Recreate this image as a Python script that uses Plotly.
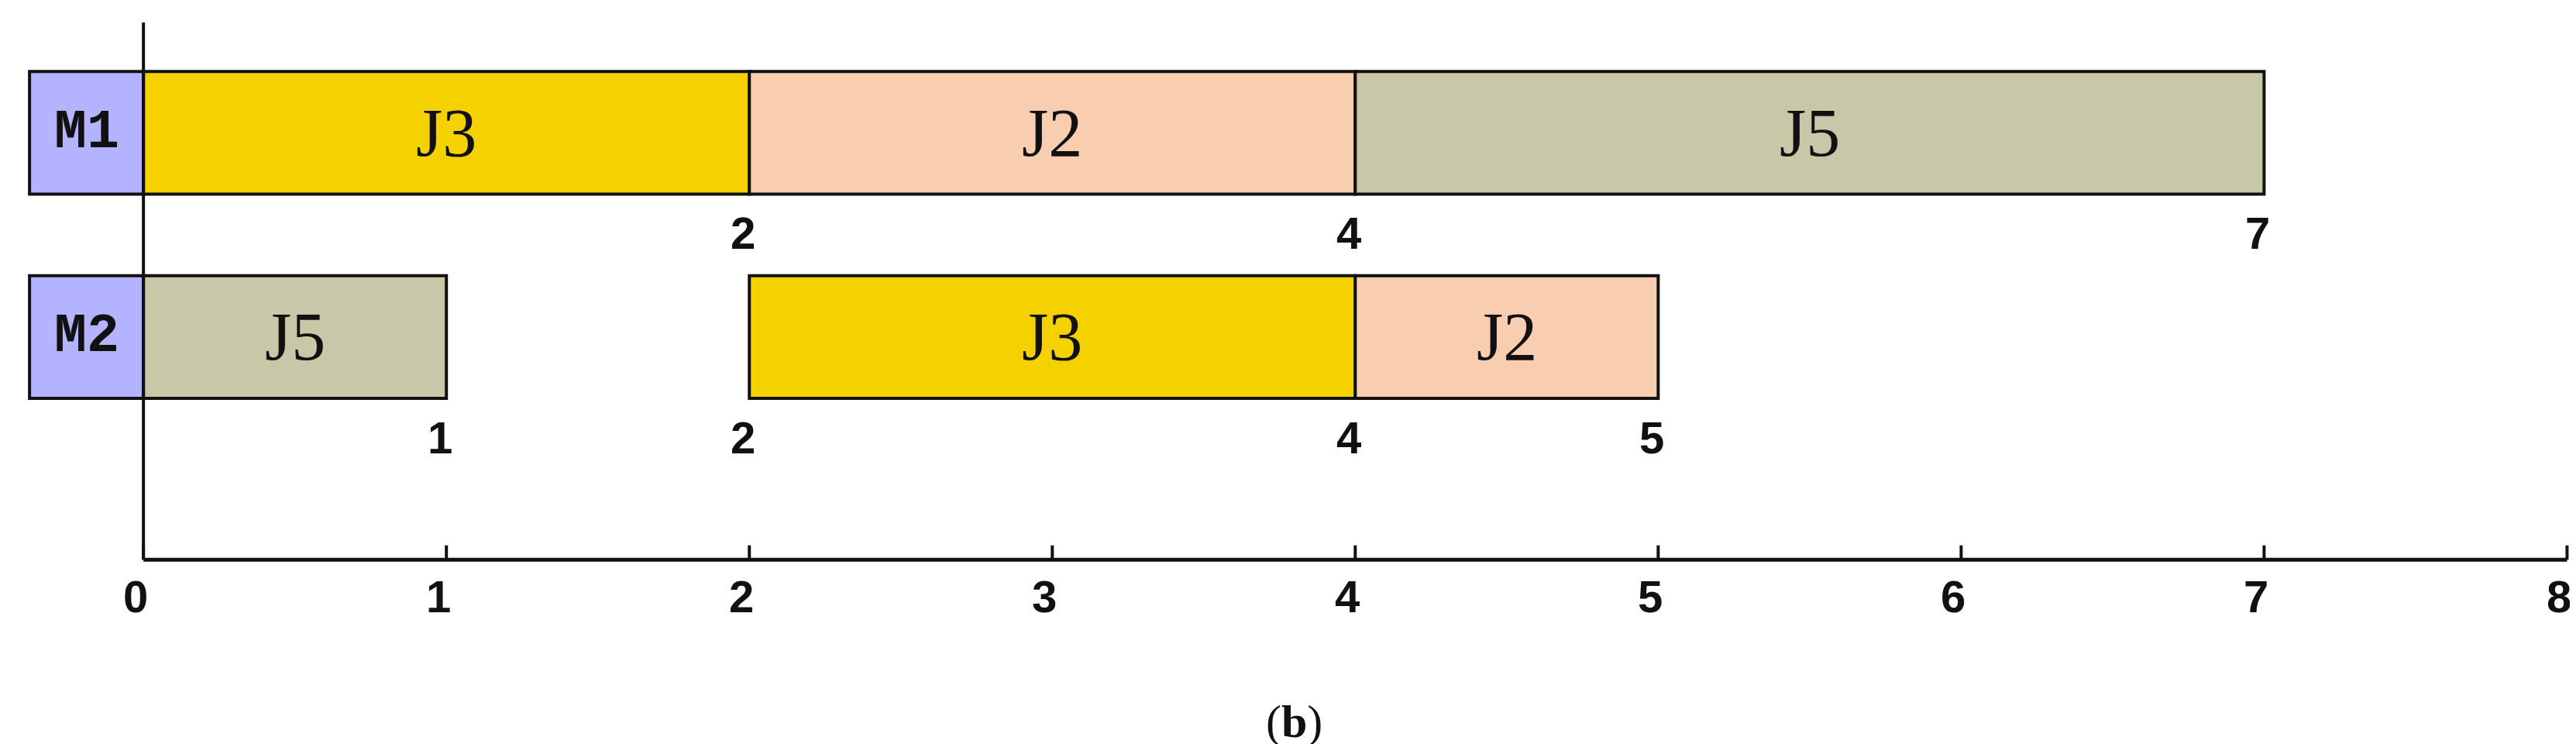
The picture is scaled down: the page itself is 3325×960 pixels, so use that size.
import plotly.graph_objects as go

machines = ["M1", "M2"]
jobs = [["J3", "J2", "J5"], ["J5", "J3", "J2"]]
starts = [[0, 2, 4], [0, 2, 4]]
ends = [[2, 4, 7], [1, 4, 5]]
ticks = [0, 1, 2, 3, 4, 5, 6, 7, 8]
colors = {"J3": "#F5D100", "J2": "#F9CDB0", "J5": "#C8C8A9"}
mcolor = "#B3B3FF"

H = 0.3
NUMFONT = dict(family="Liberation Sans Narrow, Liberation Sans", size=58, color="#111")
fig = go.Figure()
shapes, ann = [], []
for r, m in enumerate(machines):
    shapes.append(dict(type="rect", x0=-0.376, x1=0, y0=r - H, y1=r + H,
                       fillcolor=mcolor, line=dict(color="#111", width=4)))
    ann.append(dict(x=-0.188, y=r, text="<b>" + m + "</b>", showarrow=False,
                    font=dict(family="Liberation Mono", size=70, color="#111")))
    for j, s, e in zip(jobs[r], starts[r], ends[r]):
        shapes.append(dict(type="rect", x0=s, x1=e, y0=r - H, y1=r + H,
                           fillcolor=colors[j], line=dict(color="#111", width=4)))
        ann.append(dict(x=(s + e) / 2, y=r, text=j, showarrow=False,
                        font=dict(family="Liberation Serif", size=88, color="#111")))
        ann.append(dict(x=e, y=r + 0.49, text="<b>" + str(e) + "</b>", showarrow=False, xshift=-8,
                        font=NUMFONT))
    ann.append(dict(x=starts[r][1], y=r + 0.49, text="<b>" + str(starts[r][1]) + "</b>",
                    showarrow=False, xshift=-8, font=NUMFONT))
# axes
shapes.append(dict(type="line", x0=0, x1=0, y0=-0.54, y1=2.09, line=dict(color="#111", width=4)))
shapes.append(dict(type="line", x0=0, x1=8, y0=2.09, y1=2.09, line=dict(color="#111", width=5)))
for t in ticks:
    shapes.append(dict(type="line", x0=t, x1=t, y0=2.09, y1=2.02, line=dict(color="#111", width=4)))
    ann.append(dict(x=t, y=2.27, text="<b>" + str(t) + "</b>", showarrow=False, xshift=-10,
                    font=NUMFONT))
ann.append(dict(x=0.5, y=1 - 923 / 960, xref="paper", yref="paper", yanchor="middle",
                text="(<b>b</b>)", showarrow=False,
                font=dict(family="Liberation Serif", size=60, color="#111")))

fig.update_layout(width=3325, height=960, margin=dict(l=0, r=0, t=0, b=0),
                  plot_bgcolor="white", paper_bgcolor="white", shapes=shapes, annotations=ann,
                  showlegend=False,
                  xaxis=dict(range=[-0.453, 8.05], visible=False),
                  yaxis=dict(range=[3.023, -0.62], visible=False))
fig.write_html("out.html")
